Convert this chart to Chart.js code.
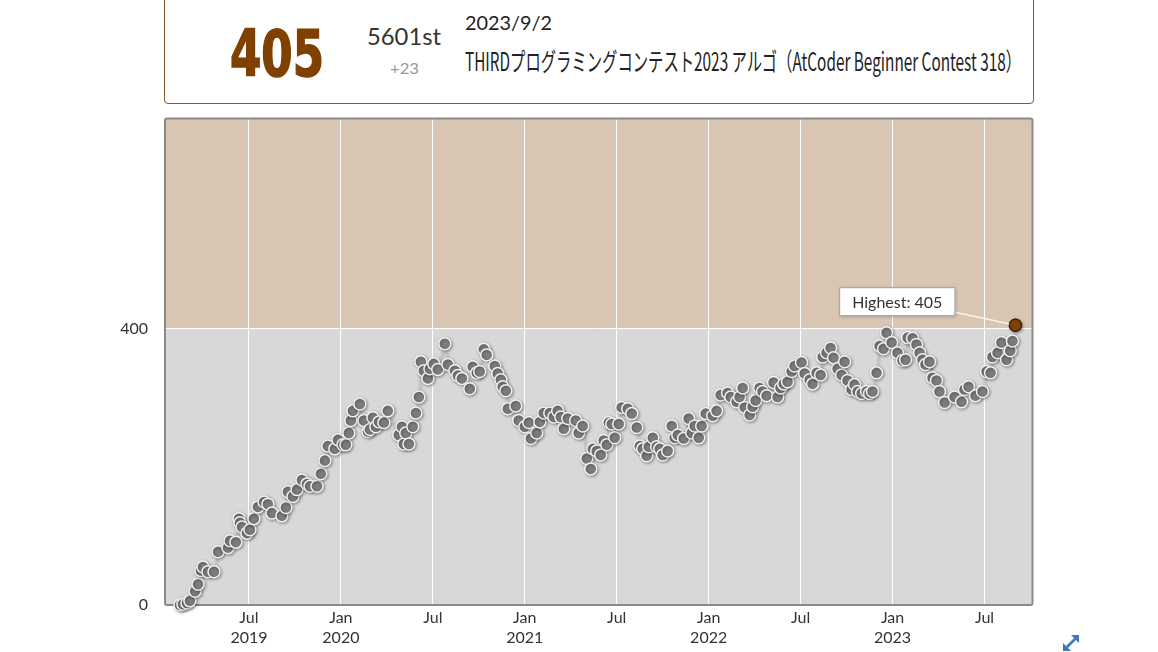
<!DOCTYPE html>
<html>
<head>
<meta charset="utf-8">
<script src="https://cdn.jsdelivr.net/npm/chart.js@4/dist/chart.umd.min.js"></script>
<style>
  html,body{margin:0;padding:0;background:#fff;width:1158px;height:652px;overflow:hidden;font-family:Lato,"Noto Sans",sans-serif;}
  #hdr{position:absolute;left:164px;top:-6px;width:868px;height:108px;border:1.5px solid #8c5a2a;border-radius:4px;box-sizing:content-box;}
  .t{position:absolute;white-space:nowrap;line-height:1;transform-origin:0 0;}
  #cwrap{position:absolute;left:100px;top:92px;width:940px;height:560px;}
  #exp{position:absolute;left:1061px;top:633px;}
</style>
</head>
<body>
<div id="hdr"></div>
<div class="t" id="rate" style="left:230px;top:22px;font-family:'Liberation Sans Narrow','DejaVu Sans Condensed',sans-serif;font-weight:bold;font-size:64px;color:#804000;-webkit-text-stroke:1.5px #804000;">405</div>
<div class="t" id="rank" style="left:367px;top:24px;font-size:24px;color:#333;">5601st</div>
<div class="t" id="diff" style="left:390px;top:60px;font-size:16px;color:#999;">+23</div>
<div class="t" id="date" style="left:465px;top:12px;font-size:20px;color:#222;">2023/9/2</div>
<div class="t" id="cname" style="left:465px;top:48px;font-size:25px;color:#222;font-family:'Liberation Sans Narrow','Noto Sans CJK JP',sans-serif;">THIRDプログラミングコンテスト2023 アルゴ（AtCoder Beginner Contest 318）</div>
<div id="cwrap"><canvas id="c" width="940" height="560"></canvas></div>
<svg id="exp" width="20" height="20" viewBox="0 0 20 20">
  <g fill="#3a7bbf" stroke="#3a7bbf">
    <line x1="4" y1="16" x2="16" y2="4" stroke-width="2.6"/>
    <polygon points="18,2 18,10 10,2" stroke="none"/>
    <polygon points="2,18 2,10 10,18" stroke="none"/>
  </g>
</svg>
<script>
// ---- data ----
const years = [
2019.125,2019.141,2019.163,2019.179,2019.207,2019.223,2019.239,2019.250,2019.277,2019.310,
2019.332,2019.386,2019.397,2019.429,2019.446,2019.451,2019.462,2019.489,2019.505,2019.527,
2019.549,2019.582,2019.603,2019.625,2019.679,2019.701,2019.712,2019.739,2019.761,2019.788,
2019.815,2019.832,2019.870,2019.891,2019.913,2019.929,2019.967,2019.984,2020.011,2020.027,
2020.043,2020.054,2020.065,2020.103,2020.125,2020.147,2020.158,2020.174,2020.190,2020.207,
2020.234,2020.255,2020.315,2020.332,2020.342,2020.353,2020.370,2020.391,2020.408,2020.424,
2020.435,2020.451,2020.473,2020.484,2020.505,2020.527,2020.565,2020.582,2020.620,2020.636,
2020.658,2020.701,2020.717,2020.739,2020.755,2020.777,2020.793,2020.837,2020.853,2020.870,
2020.880,2020.897,2020.908,2020.951,2020.967,2021.000,2021.022,2021.033,2021.065,2021.082,
2021.103,2021.136,2021.158,2021.179,2021.196,2021.212,2021.234,2021.277,2021.293,2021.315,
2021.337,2021.359,2021.370,2021.391,2021.413,2021.429,2021.446,2021.457,2021.473,2021.489,
2021.511,2021.527,2021.560,2021.582,2021.609,2021.625,2021.641,2021.663,2021.674,2021.696,
2021.717,2021.734,2021.750,2021.777,2021.799,2021.815,2021.832,2021.864,2021.891,2021.908,
2021.924,2021.946,2021.962,2021.984,2022.022,2022.043,2022.065,2022.103,2022.120,2022.152,
2022.168,2022.185,2022.196,2022.223,2022.239,2022.255,2022.277,2022.293,2022.315,2022.353,
2022.375,2022.391,2022.408,2022.429,2022.451,2022.467,2022.505,2022.522,2022.549,2022.565,
2022.587,2022.609,2022.620,2022.641,2022.663,2022.679,2022.701,2022.723,2022.739,2022.755,
2022.777,2022.793,2022.810,2022.832,2022.859,2022.875,2022.891,2022.913,2022.929,2022.951,
2022.967,2022.995,2023.027,2023.054,2023.071,2023.082,2023.109,2023.130,2023.147,2023.163,
2023.179,2023.201,2023.217,2023.239,2023.255,2023.283,2023.337,2023.375,2023.391,2023.413,
2023.451,2023.489,2023.511,2023.533,2023.543,2023.571,2023.592,2023.620,2023.640,2023.652,
2023.668
];
const ratings = [
0,1,3,6,20,30,50,55,48,48,
77,83,93,91,125,119,113,104,109,125,
142,149,146,133,129,141,164,157,167,181,
175,172,172,190,209,230,226,239,232,232,
249,267,281,291,267,251,254,271,258,265,
264,281,246,258,233,249,233,258,278,301,
352,339,328,342,349,341,378,348,339,332,
328,313,345,336,338,370,362,346,335,326,
316,310,284,288,267,258,264,241,249,265,
278,278,272,281,272,255,270,267,249,259,
212,197,226,223,217,238,232,264,262,242,
262,286,284,277,257,230,226,216,229,242,
229,226,217,223,259,242,246,241,270,249,
259,242,259,277,274,281,304,307,301,294,
301,314,286,275,287,296,314,309,303,322,
301,314,320,323,338,346,351,335,326,320,
336,333,359,365,372,358,342,333,352,325,
312,319,309,306,309,306,309,336,375,371,
394,380,365,354,355,387,386,377,365,355,
348,352,329,325,309,293,301,294,312,316,
303,309,338,336,359,365,380,355,368,382,
405
];
const yTicks = [0, 400];
const xTicks = [2019.5, 2020, 2020.5, 2021, 2021.5, 2022, 2022.5, 2023, 2023.5];
const highestLabel = 'Highest: 405';

// fit header texts
function fitW(id, w){ const el=document.getElementById(id); const r=el.getBoundingClientRect().width; el.style.transform='scaleX('+(w/r)+')'; }
fitW('rate', 94); fitW('rank', 74); fitW('diff', 29); fitW('date', 87); fitW('cname', 556);

const pts = years.map((x,i)=>({x, y: ratings[i]}));
const hiIdx = ratings.indexOf(Math.max(...ratings));

const deco = {
  id:'deco',
  beforeDraw(chart){
    const {ctx, chartArea:a, scales:{y}} = chart;
    const y4 = y.getPixelForValue(400);
    ctx.save();
    ctx.fillStyle = '#d8d8d8';
    ctx.fillRect(a.left, y4, a.width, a.bottom - y4);
    ctx.fillStyle = '#d8c5b2';
    ctx.fillRect(a.left, a.top, a.width, y4 - a.top);
    ctx.restore();
  },
  beforeDatasetsDraw(chart){
    const {ctx, chartArea:a} = chart;
    ctx.save();
    ctx.strokeStyle = '#8a8a8a';
    ctx.lineWidth = 2;
    ctx.beginPath();
    ctx.roundRect(a.left, a.top, a.width, a.height, 2);
    ctx.stroke();
    ctx.restore();
  },
  beforeDatasetDraw(chart){
    const ctx = chart.ctx;
    ctx.save();
    ctx.shadowColor = 'rgba(0,0,0,0.35)';
    ctx.shadowBlur = 3;
    ctx.shadowOffsetX = 1;
    ctx.shadowOffsetY = 1;
  },
  afterDatasetDraw(chart){ chart.ctx.restore(); },
  afterDraw(chart){
    const ctx = chart.ctx;
    const p = chart.getDatasetMeta(0).data[hiIdx];
    ctx.save();
    ctx.font = '16px Lato';
    const tw = ctx.measureText(highestLabel).width;
    const bw = tw + 26, bh = 29;
    const bx = p.x - 60 - bw, by = p.y - 9 - bh;
    ctx.strokeStyle = '#fbf3ea';
    ctx.lineWidth = 1.5;
    ctx.beginPath(); ctx.moveTo(bx + bw, by + bh - 4); ctx.lineTo(p.x, p.y); ctx.stroke();
    ctx.shadowColor = 'rgba(0,0,0,0.35)'; ctx.shadowBlur = 3; ctx.shadowOffsetX = 1; ctx.shadowOffsetY = 1;
    ctx.fillStyle = '#fff';
    ctx.fillRect(bx, by, bw, bh);
    ctx.shadowColor = 'transparent';
    ctx.strokeStyle = '#999'; ctx.lineWidth = 1;
    ctx.strokeRect(bx + 0.5, by + 0.5, bw - 1, bh - 1);
    ctx.fillStyle = '#333';
    ctx.textAlign = 'center'; ctx.textBaseline = 'middle';
    ctx.fillText(highestLabel, bx + bw/2, by + bh/2 + 1);
    ctx.restore();
    // redraw highest point on top
    ctx.save();
    ctx.beginPath(); ctx.arc(p.x, p.y, 6, 0, Math.PI*2);
    ctx.fillStyle = '#804000'; ctx.fill();
    ctx.strokeStyle = '#3a1c00'; ctx.lineWidth = 1; ctx.stroke();
    ctx.restore();
  }
};

new Chart(document.getElementById('c'), {
  type: 'line',
  data: {
    datasets: [
      { data: pts, borderColor: '#c4c4c4', borderWidth: 1, pointRadius: 6,
        pointBackgroundColor: c => c.dataIndex === hiIdx ? '#804000' : '#7c7c7c',
        pointBorderColor: c => c.dataIndex === hiIdx ? '#3a1c00' : '#f2f2f2',
        pointBorderWidth: 1.5, tension: 0, clip: false }
    ]
  },
  plugins: [deco],
  options: {
    responsive: false, animation: false,
    layout: { padding: { top: 9, right: 7, left: 0, bottom: 0 } },
    plugins: { legend: { display: false }, tooltip: { enabled: false }, title: { display: false } },
    scales: {
      x: {
        type: 'linear', min: 2019.0435, max: 2023.761,
        afterBuildTicks(s){ s.ticks = xTicks.map(v=>({value:v})); },
        afterFit(s){ s.height = 47; },
        grid: { color: '#ffffff', lineWidth: 1, drawTicks: false },
        border: { display: false },
        ticks: {
          padding: 3, color: '#333', font: { family: 'Lato', size: 16, lineHeight: 1.25 }, maxRotation: 0, autoSkip: false,
          callback(v){
            const y = Math.floor(v), half = v - y > 0.25;
            if (half) return v === xTicks[0] ? ['Jul', String(y)] : 'Jul';
            return ['Jan', String(y)];
          }
        }
      },
      y: {
        min: 0, max: 704,
        afterBuildTicks(s){ s.ticks = yTicks.map(v=>({value:v})); },
        afterFit(s){ s.width = 65; },
        grid: { color: '#ffffff', lineWidth: 1, drawTicks: false },
        border: { display: false },
        ticks: { padding: 17, color: '#333', font: { family: 'Lato', size: 16 } }
      }
    }
  }
});
</script>
</body>
</html>
